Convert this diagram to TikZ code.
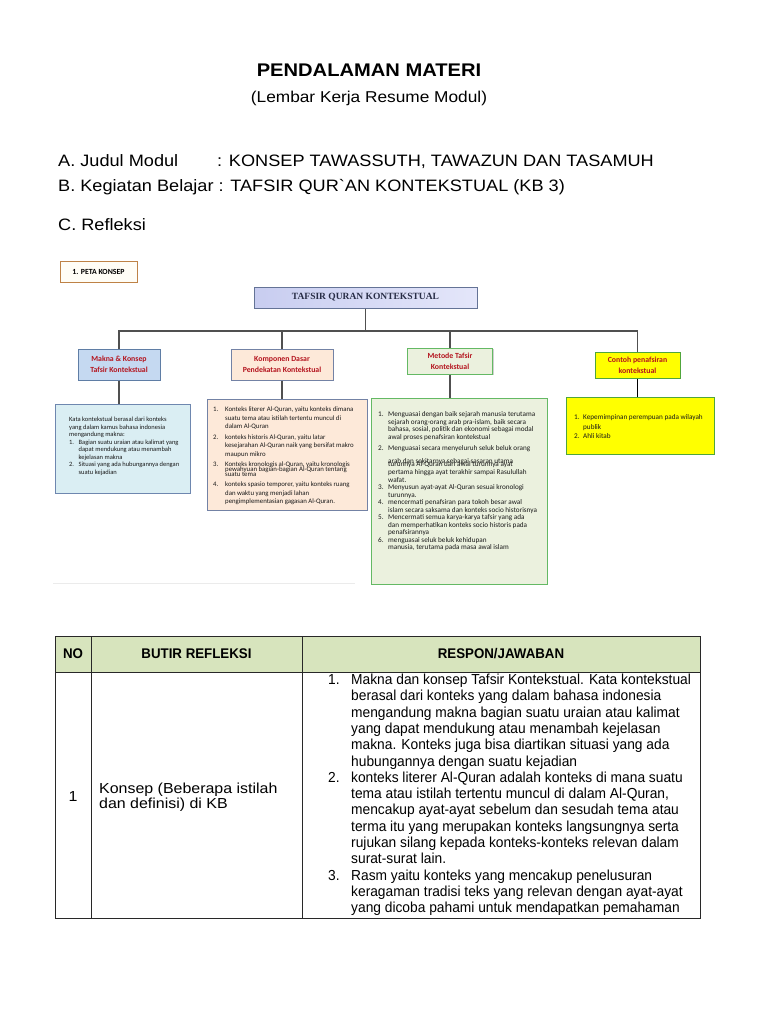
\documentclass[tikz,border=0pt]{standalone}
\usepackage{fontspec}
\newfontfamily\pagefont{Liberation Sans}[FakeStretch=1.1]
\newfontfamily\narrowfont{Liberation Sans}[FakeStretch=0.95]
\newfontfamily\mapfont{Carlito}
\newfontfamily\headfont{Liberation Serif}
\usetikzlibrary{positioning,shadows,calc}

\definecolor{labelred}{RGB}{180,20,30}
\definecolor{textgray}{RGB}{25,25,25}
\definecolor{linkgray}{RGB}{80,80,80}
\definecolor{petafill}{RGB}{255,253,246}
\definecolor{petaline}{RGB}{190,130,70}
\definecolor{rootleft}{RGB}{200,205,240}
\definecolor{rootright}{RGB}{228,230,250}
\definecolor{rootline}{RGB}{100,115,150}
\definecolor{maknafill}{RGB}{197,217,241}
\definecolor{maknaline}{RGB}{95,125,165}
\definecolor{peachfill}{RGB}{253,233,217}
\definecolor{peachline}{RGB}{115,130,165}
\definecolor{greenfill}{RGB}{235,241,222}
\definecolor{greenline}{RGB}{100,185,100}
\definecolor{yellowfill}{RGB}{255,255,0}
\definecolor{yellowline}{RGB}{80,165,60}
\definecolor{bluefill}{RGB}{218,238,243}
\definecolor{blueline}{RGB}{110,135,175}
\definecolor{headfill}{RGB}{215,228,189}
\definecolor{tableline}{RGB}{40,40,40}

\newcommand\fullrow[1]{\multicolumn{2}{@{}l@{}}{#1}}

\begin{document}
\begin{tikzpicture}[
  x=1pt, y=-1pt,
  pagetext/.style={inner sep=0, font=\pagefont\fontsize{16.5}{19}\selectfont},
  concept/.style={draw, line width=1pt, inner sep=0, align=center, text=labelred,
    font=\mapfont\bfseries\fontsize{7.8}{11}\selectfont,
    drop shadow={shadow xshift=1.2pt, shadow yshift=-1.2pt, fill=black!30, opacity=.6}},
  detail/.style={draw, line width=1pt, inner sep=0, anchor=north west},
  dtext/.style={inner sep=0, anchor=base west, text=textgray},
  link/.style={draw=linkgray, line width=1.2pt},
  headtext/.style={inner sep=0, anchor=base, font=\narrowfont\bfseries\fontsize{14}{16}\selectfont},
]
\useasboundingbox (0,0) rectangle (768,1024);
\fill[white] (0,0) rectangle (768,1024);

% judul halaman
\node[pagetext, font=\pagefont\bfseries\fontsize{18.3}{22}\selectfont, anchor=base] (title) at (369,76.6) {PENDALAMAN MATERI};
\node[pagetext, font=\pagefont\fontsize{15.7}{19}\selectfont, anchor=base] (subtitle) at (369,102.6) {(Lembar Kerja Resume Modul)};
\node[pagetext, anchor=base west] (judul) at (58,167) {A. Judul Modul};
\node[pagetext, anchor=base west] (judulisi) at (217,167) {: KONSEP TAWASSUTH, TAWAZUN DAN TASAMUH};
\node[pagetext, anchor=base west] (kb) at (58,192) {B. Kegiatan Belajar : TAFSIR QUR`AN KONTEKSTUAL (KB 3)};
\node[pagetext, anchor=base west] (refleksi) at (58,230) {C. Refleksi};

% peta konsep
\node[draw=petaline, fill=petafill, line width=1pt, minimum width=77, minimum height=21, inner sep=0,
  font=\mapfont\bfseries\fontsize{7.8}{9}\selectfont,
  drop shadow={shadow xshift=1.2pt, shadow yshift=-1.2pt, fill=black!30, opacity=.6}] (peta) at (98.5,271.5) {1. PETA KONSEP};
\node[draw=rootline, left color=rootleft, right color=rootright, line width=1pt, minimum width=223, minimum height=21, inner sep=0,
  text={rgb,255:red,40;green,45;blue,70}, font=\headfont\bfseries\fontsize{9.5}{11}\selectfont,
  drop shadow={shadow xshift=1.2pt, shadow yshift=-1.2pt, fill=black!30, opacity=.6}] (root) at (365.5,297.5) {TAFSIR QURAN KONTEKSTUAL};
\coordinate (bar) at (365.5,331);

\node[concept, fill=maknafill, draw=maknaline, minimum width=82, minimum height=31] (makna) at (119,364.5) {Makna \& Konsep\\Tafsir Kontekstual};
\node[concept, fill=peachfill, draw=peachline, minimum width=102, minimum height=31] (komponen) at (282,364.5) {Komponen Dasar\\Pendekatan Kontekstual};
\node[concept, fill=greenfill, draw=greenline, minimum width=85, minimum height=26] (metode) at (450,361) {Metode Tafsir\\Kontekstual};
\node[concept, fill=yellowfill, draw=yellowline, minimum width=85, minimum height=26] (contoh) at (637.5,365) {Contoh penafsiran\\kontekstual};

\node[detail, fill=bluefill, draw=blueline, minimum width=135, minimum height=89] (maknaisi) at (55,404) {};
\node[detail, fill=peachfill, draw=peachline, minimum width=160, minimum height=111] (komponenisi) at (207,399) {};
\node[detail, fill=greenfill, draw=greenline, minimum width=176, minimum height=186] (metodeisi) at (371,398) {};
\node[detail, fill=yellowfill, draw=yellowline, minimum width=148, minimum height=57] (contohisi) at (566,397) {};

\draw[link] (root) -- (root |- bar);
\draw[link] (makna) |- (bar) -| (contoh);
\draw[link] (komponen) -- (komponen |- bar);
\draw[link] (metode) -- (metode |- bar);
\draw[link] (makna) -- (makna |- maknaisi.north);
\draw[link] (komponen) -- (komponen |- komponenisi.north);
\draw[link] (metode) -- (metode |- metodeisi.north);
\draw[link, draw=black] (contoh) -- (contoh |- contohisi.north);

\node[dtext, font=\mapfont\fontsize{6.5}{7.5}\selectfont] (maknateks) at (69,421.5) {\begin{tabular}[t]{@{}p{9.5pt}@{}l@{}}
\fullrow{Kata kontekstual berasal dari konteks}\\
\fullrow{yang dalam kamus bahasa indonesia}\\
\fullrow{mengandung makna:}\\
1. & Bagian suatu uraian atau kalimat yang\\
   & dapat mendukung atau menambah\\
   & kejelasan makna\\
2. & Situasi yang ada hubungannya dengan\\
   & suatu kejadian
\end{tabular}};

\node[dtext, font=\mapfont\fontsize{6.8}{8.5}\selectfont] (komponenteks) at (213,411.6) {\begin{tabular}[t]{@{}p{12pt}@{}l@{}}
1. & Konteks literer Al-Quran, yaitu konteks dimana\\
   & suatu tema atau istilah tertentu muncul di\\
   & dalam Al-Quran\\[2pt]
2. & konteks historis Al-Quran, yaitu latar\\
   & kesejarahan Al-Quran naik yang bersifat makro\\
   & maupun mikro\\[2pt]
3. & Konteks kronologis al-Quran, yaitu kronologis\\[-3.5pt]
   & pewahyuan bagian-bagian Al-Quran tentang\\[-3.5pt]
   & suatu tema\\[1.5pt]
4. & konteks spasio temporer, yaitu konteks ruang\\
   & dan waktu yang menjadi lahan\\
   & pengimplementasian gagasan Al-Quran.
\end{tabular}};

\node[dtext, font=\mapfont\fontsize{7.2}{7.5}\selectfont] (metodeteks) at (378,416.6) {\begin{tabular}[t]{@{}p{10pt}@{}l@{}}
1. & Menguasai dengan baik sejarah manusia terutama\\
   & sejarah orang-orang arab pra-islam, baik secara\\
   & bahasa, sosial, politik dan ekonomi sebagai modal\\
   & awal proses penafsiran kontekstual\\[4pt]
2. & Menguasai secara menyeluruh seluk beluk orang\\[5.5pt]
   & arab dan sekitarnya sebagai sasaran utama\\[-4.5pt]
   & turunnya Al-Quran dari awal turunnya ayat\\[0.5pt]
   & pertama hingga ayat terakhir sampai Rasulullah\\
   & wafat.\\
3. & Menyusun ayat-ayat Al-Quran sesuai kronologi\\
   & turunnya.\\
4. & mencermati penafsiran para tokoh besar awal\\
   & islam secara saksama dan konteks socio historisnya\\
5. & Mencermati semua karya-karya tafsir yang ada\\
   & dan memperhatikan konteks socio historis pada\\
   & penafsirannya\\
6. & menguasai seluk beluk kehidupan\\
   & manusia, terutama pada masa awal islam
\end{tabular}};

\node[dtext, font=\mapfont\fontsize{7.2}{9.5}\selectfont] (contohteks) at (574,419.6) {\begin{tabular}[t]{@{}p{9pt}@{}l@{}}
1. & Kepemimpinan perempuan pada wilayah\\
   & publik\\
2. & Ahli kitab
\end{tabular}};

\draw[black!8, line width=1pt] (53,583) -- (355,583);

% tabel refleksi
\fill[headfill] (55,636) rectangle (700,672);
\draw[tableline, line width=1pt] (55,636) rectangle (700,918);
\draw[tableline, line width=1pt] (55,672) -- (700,672);
\draw[tableline, line width=1pt] (91,636) -- (91,918);
\draw[tableline, line width=1pt] (302,636) -- (302,918);

\node[headtext] (colno) at (73,658) {NO};
\node[headtext] (colbutir) at (196.5,658) {BUTIR REFLEKSI};
\node[headtext] (colrespon) at (501,658) {RESPON/JAWABAN};

\node[inner sep=0, anchor=base, font=\pagefont\fontsize{14.5}{16}\selectfont] (nosatu) at (73,801) {1};
\node[dtext, text=black, font=\pagefont\fontsize{14.5}{15.5}\selectfont] (butir) at (99,793) {\begin{tabular}[t]{@{}l@{}}
Konsep (Beberapa istilah\\
dan definisi) di KB
\end{tabular}};

\node[dtext, text=black, font=\narrowfont\fontsize{14.5}{16.3}\selectfont] (respon) at (328,684.5) {\begin{tabular}[t]{@{}p{23pt}@{}l@{}}
1. & Makna dan konsep Tafsir Kontekstual. Kata kontekstual\\
   & berasal dari konteks yang dalam bahasa indonesia\\
   & mengandung makna bagian suatu uraian atau kalimat\\
   & yang dapat mendukung atau menambah kejelasan\\
   & makna. Konteks juga bisa diartikan situasi yang ada\\
   & hubungannya dengan suatu kejadian\\
2. & konteks literer Al-Quran adalah konteks di mana suatu\\
   & tema atau istilah tertentu muncul di dalam Al-Quran,\\
   & mencakup ayat-ayat sebelum dan sesudah tema atau\\
   & terma itu yang merupakan konteks langsungnya serta\\
   & rujukan silang kepada konteks-konteks relevan dalam\\
   & surat-surat lain.\\
3. & Rasm yaitu konteks yang mencakup penelusuran\\
   & keragaman tradisi teks yang relevan dengan ayat-ayat\\
   & yang dicoba pahami untuk mendapatkan pemahaman
\end{tabular}};
\end{tikzpicture}
\end{document}
